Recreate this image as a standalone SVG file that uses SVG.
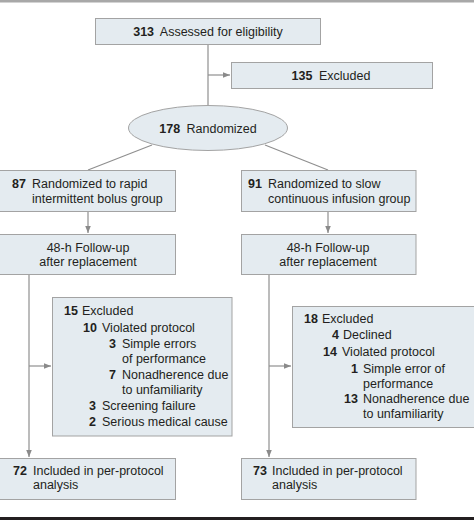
<svg xmlns="http://www.w3.org/2000/svg" width="474" height="520" viewBox="0 0 474 520">
<defs>
<marker id="ah" viewBox="0 0 10 10" refX="10" refY="5" markerWidth="7" markerHeight="7" markerUnits="userSpaceOnUse" orient="auto">
<path d="M0,1 L10,5 L0,9 z" fill="#8a8a8a"/>
</marker>
<style>
.box{fill:#e4ebf0;stroke:#a3a3a3;stroke-width:1}
.ln{fill:none;stroke:#8f8f8f;stroke-width:1.2}
text{font-family:"Liberation Sans",Arial,sans-serif;font-size:12.5px;fill:#231f20}
.b{font-weight:bold}
.e{text-anchor:end}
.m{text-anchor:middle}
</style>
</defs>
<rect x="0" y="0" width="474" height="520" fill="#ffffff"/>
<rect x="0" y="0" width="474" height="2.5" fill="#a8a8a8"/>
<rect x="0" y="517" width="474" height="3" fill="#231f20"/>

<g id="connectors">
<line class="ln" x1="208" y1="44" x2="208" y2="106"/>
<line class="ln" x1="208" y1="75" x2="230" y2="75" marker-end="url(#ah)"/>
<line class="ln" x1="152" y1="145" x2="88" y2="170"/>
<line class="ln" x1="265" y1="145" x2="328" y2="170"/>
<line class="ln" x1="88" y1="211" x2="88" y2="233" marker-end="url(#ah)"/>
<line class="ln" x1="328" y1="211" x2="328" y2="233" marker-end="url(#ah)"/>
<line class="ln" x1="29" y1="274" x2="29" y2="457" marker-end="url(#ah)"/>
<line class="ln" x1="29" y1="366" x2="51" y2="366" marker-end="url(#ah)"/>
<line class="ln" x1="269" y1="274" x2="269" y2="457" marker-end="url(#ah)"/>
<line class="ln" x1="269" y1="366" x2="291" y2="366" marker-end="url(#ah)"/>
</g>

<g id="assessed">
<rect class="box" x="95.5" y="18.5" width="225" height="26"/>
<text class="m" x="208" y="36"><tspan class="b">313</tspan><tspan dx="3"> Assessed for eligibility</tspan></text>
</g>

<g id="excluded135">
<rect class="box" x="231.5" y="62.5" width="201" height="26"/>
<text class="m" x="331" y="80"><tspan class="b">135</tspan><tspan dx="3"> Excluded</tspan></text>
</g>

<g id="randomized">
<ellipse class="box" cx="208" cy="128" rx="79.5" ry="22.5"/>
<text class="m" x="208" y="133"><tspan class="b">178</tspan><tspan dx="3"> Randomized</tspan></text>
</g>

<g id="rapid">
<rect class="box" x="-1" y="170.5" width="176.5" height="41"/>
<text class="b e" x="26" y="188">87</text>
<text x="32" y="188">Randomized to rapid</text>
<text x="32" y="203">intermittent bolus group</text>
</g>

<g id="slow">
<rect class="box" x="241.5" y="170.5" width="174.5" height="41"/>
<text class="b e" x="262" y="188">91</text>
<text x="268" y="188">Randomized to slow</text>
<text x="268" y="203">continuous infusion group</text>
</g>

<g id="followup-left">
<rect class="box" x="-1" y="234.5" width="176.5" height="40"/>
<text class="m" x="88" y="252">48-h Follow-up</text>
<text class="m" x="88" y="266">after replacement</text>
</g>

<g id="followup-right">
<rect class="box" x="241.5" y="234.5" width="174.5" height="40"/>
<text class="m" x="328" y="252">48-h Follow-up</text>
<text class="m" x="328" y="266">after replacement</text>
</g>

<g id="excluded-left">
<rect class="box" x="52.5" y="297.5" width="179.5" height="138.5"/>
<text class="b e" x="78" y="315">15</text>
<text x="82" y="315">Excluded</text>
<text class="b e" x="97" y="332">10</text>
<text x="102" y="332">Violated protocol</text>
<text class="b e" x="116" y="348">3</text>
<text x="122" y="348">Simple errors</text>
<text x="122" y="363">of performance</text>
<text class="b e" x="116" y="379">7</text>
<text x="122" y="379">Nonadherence due</text>
<text x="122" y="394">to unfamiliarity</text>
<text class="b e" x="96" y="410">3</text>
<text x="102" y="410">Screening failure</text>
<text class="b e" x="96" y="426">2</text>
<text x="102" y="426">Serious medical cause</text>
</g>

<g id="excluded-right">
<rect class="box" x="292.5" y="306.5" width="182" height="121"/>
<text class="b e" x="318" y="323">18</text>
<text x="322" y="323">Excluded</text>
<text class="b e" x="339" y="339">4</text>
<text x="343" y="339">Declined</text>
<text class="b e" x="337" y="356">14</text>
<text x="342" y="356">Violated protocol</text>
<text class="b e" x="358" y="373">1</text>
<text x="363" y="373">Simple error of</text>
<text x="363" y="388">performance</text>
<text class="b e" x="358" y="403">13</text>
<text x="363" y="403">Nonadherence due</text>
<text x="363" y="418">to unfamiliarity</text>
</g>

<g id="included-left">
<rect class="box" x="-1" y="458.5" width="176.5" height="41"/>
<text class="b e" x="27" y="475">72</text>
<text x="33" y="475">Included in per-protocol</text>
<text x="33" y="489">analysis</text>
</g>

<g id="included-right">
<rect class="box" x="241.5" y="458.5" width="174.5" height="41"/>
<text class="b e" x="267" y="475">73</text>
<text x="272" y="475">Included in per-protocol</text>
<text x="272" y="489">analysis</text>
</g>
</svg>
